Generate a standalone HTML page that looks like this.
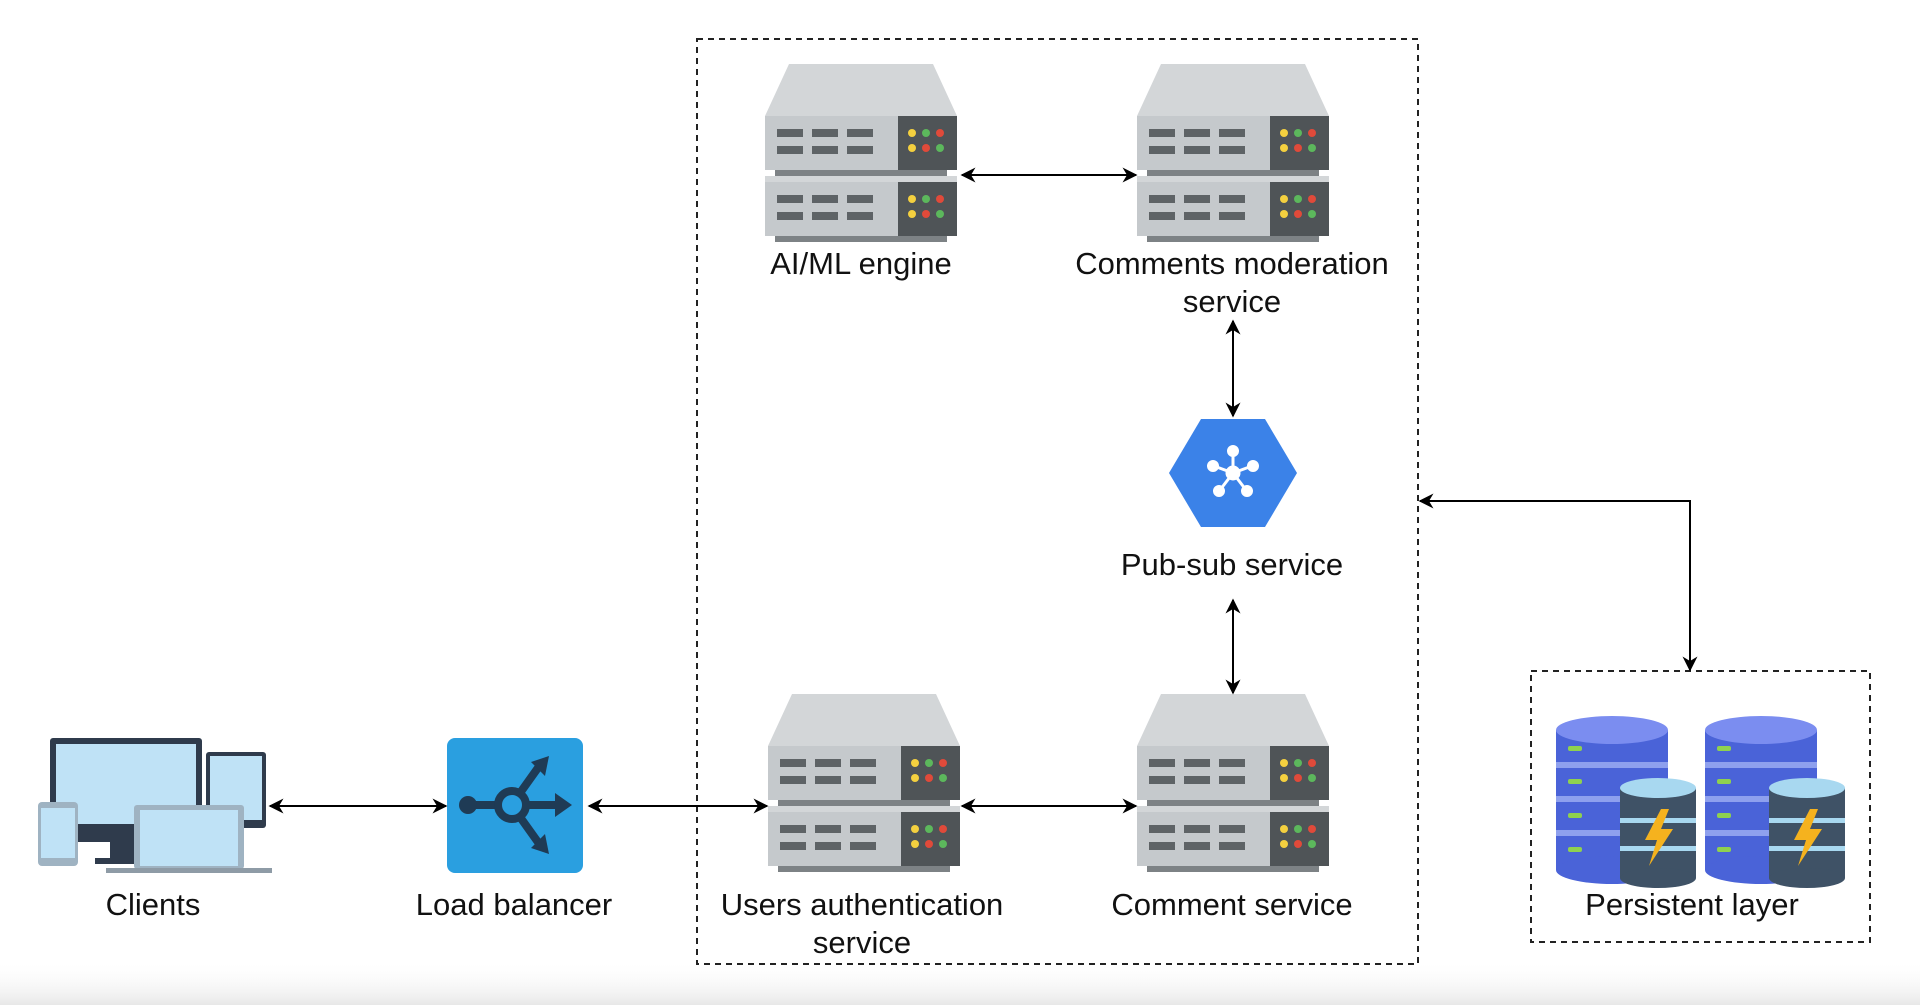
<!DOCTYPE html>
<html><head><meta charset="utf-8"><style>
body{margin:0;width:1920px;height:1005px;background:#fff;overflow:hidden;position:relative;font-family:"Liberation Sans",Arial,sans-serif}
.t{position:absolute;font-size:31px;color:#111;text-align:center;line-height:38px;transform:translateX(-50%);white-space:nowrap}
</style></head><body>
<svg width="1920" height="1005" style="position:absolute;left:0;top:0">
<defs>
<linearGradient id="fade" x1="0" y1="0" x2="0" y2="1"><stop offset="0" stop-color="#fff" stop-opacity="0"/><stop offset="1" stop-color="#e8e8e8"/></linearGradient>
<marker id="ah" viewBox="0 0 10 10" refX="9" refY="5" markerWidth="15" markerHeight="15" orient="auto-start-reverse" markerUnits="userSpaceOnUse"><path d="M0,0 L10,5 L0,10 L3,5z" fill="#000"/></marker>
<g id="unit">
<rect x="0" y="0" width="192" height="54" fill="#c5c9cc"/>
<rect x="133" y="0" width="59" height="54" fill="#4f5457"/>
<rect x="10" y="54" width="172" height="6" fill="#7d8285"/>
<g fill="#5e6366"><rect x="12" y="13" width="26" height="8"/><rect x="47" y="13" width="26" height="8"/><rect x="82" y="13" width="26" height="8"/><rect x="12" y="30" width="26" height="8"/><rect x="47" y="30" width="26" height="8"/><rect x="82" y="30" width="26" height="8"/></g>
<circle cx="147" cy="17" r="4" fill="#f4d03f"/><circle cx="161" cy="17" r="4" fill="#5cb85c"/><circle cx="175" cy="17" r="4" fill="#e04a3a"/>
<circle cx="147" cy="32" r="4" fill="#f4d03f"/><circle cx="161" cy="32" r="4" fill="#e04a3a"/><circle cx="175" cy="32" r="4" fill="#5cb85c"/>
</g>
<g id="server">
<path d="M24,0 H168 L192,52 H0z" fill="#d3d6d8"/>
<use href="#unit" y="52"/>
<rect x="0" y="112" width="192" height="8" fill="#d3d6d8"/>
<use href="#unit" y="118"/>
</g>
<g id="db">
<rect x="0" y="14" width="112" height="140" fill="#4a63d8"/>
<ellipse cx="56" cy="154" rx="56" ry="14" fill="#4a63d8"/>
<g fill="#8ea0ee"><rect x="0" y="46" width="112" height="6"/><rect x="0" y="80" width="112" height="6"/><rect x="0" y="114" width="112" height="6"/></g>
<ellipse cx="56" cy="14" rx="56" ry="14" fill="#7b8df0"/>
<g fill="#8fd14f"><rect x="12" y="30" width="14" height="5" rx="2"/><rect x="12" y="63" width="14" height="5" rx="2"/><rect x="12" y="97" width="14" height="5" rx="2"/><rect x="12" y="131" width="14" height="5" rx="2"/></g>
<rect x="64" y="72" width="76" height="90" fill="#3f5266"/>
<ellipse cx="102" cy="162" rx="38" ry="10" fill="#3f5266"/>
<g fill="#a8d8f0"><rect x="64" y="102" width="76" height="5"/><rect x="64" y="130" width="76" height="5"/></g>
<ellipse cx="102" cy="72" rx="38" ry="10" fill="#a8d8f0"/>
<path d="M105,93 L89,124 H101 L93,150 L117,113 H105 L113,93z" fill="#f5b21e"/>
</g>
</defs>
<rect x="0" y="960" width="1920" height="45" fill="url(#fade)"/>
<rect x="697" y="39" width="721" height="925" fill="none" stroke="#222" stroke-width="2" stroke-dasharray="6,5"/>
<rect x="1531" y="671" width="339" height="271" fill="none" stroke="#222" stroke-width="2" stroke-dasharray="6,5"/>
<use href="#server" x="765" y="64"/>
<use href="#server" x="1137" y="64"/>
<use href="#server" x="768" y="694"/>
<use href="#server" x="1137" y="694"/>
<path d="M1201,419 H1265 L1297,473 L1265,527 H1201 L1169,473z" fill="#3b82e8"/>
<g stroke="#fff" stroke-width="3" fill="#fff"><line x1="1233" y1="473" x2="1233" y2="452"/><line x1="1233" y1="473" x2="1214" y2="466"/><line x1="1233" y1="473" x2="1252" y2="466"/><line x1="1233" y1="473" x2="1220" y2="490"/><line x1="1233" y1="473" x2="1246" y2="490"/>
<circle cx="1233" cy="473" r="6"/><circle cx="1233" cy="451" r="4.5"/><circle cx="1213" cy="466" r="4.5"/><circle cx="1253" cy="466" r="4.5"/><circle cx="1219" cy="491" r="4.5"/><circle cx="1247" cy="491" r="4.5"/></g>
<rect x="50" y="738" width="152" height="104" rx="3" fill="#2f3b4c"/>
<rect x="56" y="744" width="140" height="80" fill="#bfe2f6"/>
<rect x="110" y="842" width="30" height="18" fill="#2f3b4c"/><rect x="95" y="858" width="60" height="6" fill="#2f3b4c"/>
<rect x="206" y="752" width="60" height="76" rx="3" fill="#2f3b4c"/><rect x="210" y="756" width="52" height="64" fill="#bfe2f6"/>
<rect x="38" y="802" width="40" height="64" rx="4" fill="#9fb3c2"/><rect x="41" y="808" width="34" height="50" fill="#bfe2f6"/>
<rect x="134" y="805" width="110" height="64" rx="3" fill="#9fb3c2"/><rect x="140" y="810" width="98" height="56" fill="#bfe2f6"/><rect x="106" y="868" width="166" height="5" fill="#8e9ba6"/>
<rect x="447" y="738" width="136" height="135" rx="8" fill="#2a9fe0"/>
<g stroke="#1f3b55" stroke-width="8" fill="none"><line x1="470" y1="805" x2="498" y2="805"/><circle cx="512" cy="805" r="14"/><line x1="526" y1="805" x2="560" y2="805"/><line x1="520" y1="793" x2="540" y2="765"/><line x1="520" y1="817" x2="540" y2="845"/></g>
<g fill="#1f3b55"><circle cx="468" cy="805" r="9"/><path d="M555,793 L572,805 L555,817z"/><path d="M531,762 L549,756 L545,776z"/><path d="M531,848 L549,854 L545,834z"/></g>
<use href="#db" x="1556" y="716"/>
<use href="#db" x="1705" y="716"/>
<g stroke="#000" stroke-width="2" fill="none" marker-start="url(#ah)" marker-end="url(#ah)">
<line x1="270" y1="806" x2="446" y2="806"/>
<line x1="589" y1="806" x2="767" y2="806"/>
<line x1="962" y1="806" x2="1136" y2="806"/>
<line x1="962" y1="175" x2="1136" y2="175"/>
<line x1="1233" y1="321" x2="1233" y2="416"/>
<line x1="1233" y1="600" x2="1233" y2="693"/>
<polyline points="1420,501 1690,501 1690,670"/>
</g>
</svg>
<div class="t" style="left:861px;top:245px">AI/ML engine</div>
<div class="t" style="left:1232px;top:245px">Comments moderation<br>service</div>
<div class="t" style="left:1232px;top:546px">Pub-sub service</div>
<div class="t" style="left:862px;top:886px">Users authentication<br>service</div>
<div class="t" style="left:1232px;top:886px">Comment service</div>
<div class="t" style="left:153px;top:886px">Clients</div>
<div class="t" style="left:514px;top:886px">Load balancer</div>
<div class="t" style="left:1692px;top:886px">Persistent layer</div>
</body></html>
